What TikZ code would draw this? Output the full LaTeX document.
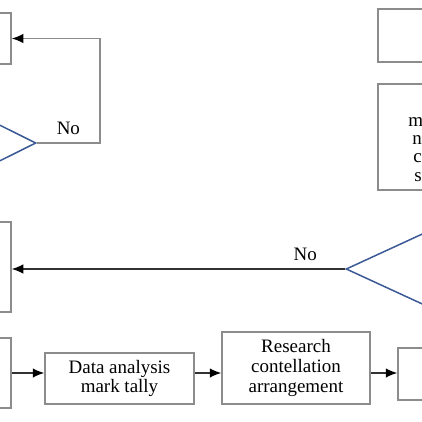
\documentclass[tikz,border=0pt]{standalone}
\usepackage{fontspec}
\setmainfont{Liberation Serif}
\usetikzlibrary{shapes.geometric,arrows.meta}

\definecolor{boxgray}{RGB}{140,140,140}
\definecolor{linegray}{RGB}{50,50,50}
\definecolor{diablue}{RGB}{60,90,150}

\begin{document}
\begin{tikzpicture}[x=0.2mm,y=-0.2mm,
  every node/.style={font=\fontsize{10.8}{11.2}\selectfont, inner sep=0pt},
  box/.style={draw=boxgray, line width=0.3mm, align=center},
  decision/.style={diamond, draw=diablue, line width=0.3mm},
  flow/.style={draw=linegray, line width=0.25mm, -{Latex[length=2.3mm,width=1.9mm,color=black]}}]
  \def\px{0.2mm}

  \useasboundingbox[fill=white] (0,0) rectangle (422,422);

  % boxes cut by the left margin
  \node[box, minimum width=82*\px, minimum height=51*\px] (chk) at (-30,38.5) {};
  \node[box, minimum width=82*\px, minimum height=90*\px] (rev) at (-30,267) {};
  \node[box, minimum width=82*\px, minimum height=70*\px] (col) at (-30,373) {};
  \node[decision, minimum width=144*\px, minimum height=72*\px] (dec1) at (-36,143) {};

  % boxes cut by the right margin
  \node[box, minimum width=82*\px, minimum height=53*\px] (top) at (419,35.5) {};
  \node[box, minimum width=92*\px, minimum height=106*\px] (note) at (424,137) {};
  \foreach \x/\y/\c [count=\i] in {408/126/m,412/144/n,413/162/c,414/181/s}
    \node[anchor=base west] (frag\i) at (\x,\y) {\c};
  \node[decision, minimum width=160*\px, minimum height=74*\px] (dec2) at (426,269) {};
  \node[box, minimum width=82*\px, minimum height=52*\px] (out) at (439,374) {};

  % bottom row
  \node[box, minimum width=149*\px, minimum height=51*\px] (data) at (119.5,378.5) {Data analysis\\mark tally};
  \node[box, minimum width=148*\px, minimum height=72*\px] (res) at (296,368) {Research\\contellation\\arrangement};

  \coordinate (turn) at (100,143);
  \draw[flow, draw=boxgray, line width=0.3mm] (dec1.east) -- node[above=8*\px] (no1) {No} (turn) |- (chk.east);
  \draw[flow] (dec2.west) -- node[pos=0.12, above=8*\px] (no2) {No} (dec2.west -| rev.east);
  \draw[flow] (col.east) -- (col.east -| data.west);
  \draw[flow] (data.east |- col.east) -- (res.west |- col.east);
  \draw[flow] (res.east |- col.east) -- (out.west |- col.east);
\end{tikzpicture}
\end{document}
